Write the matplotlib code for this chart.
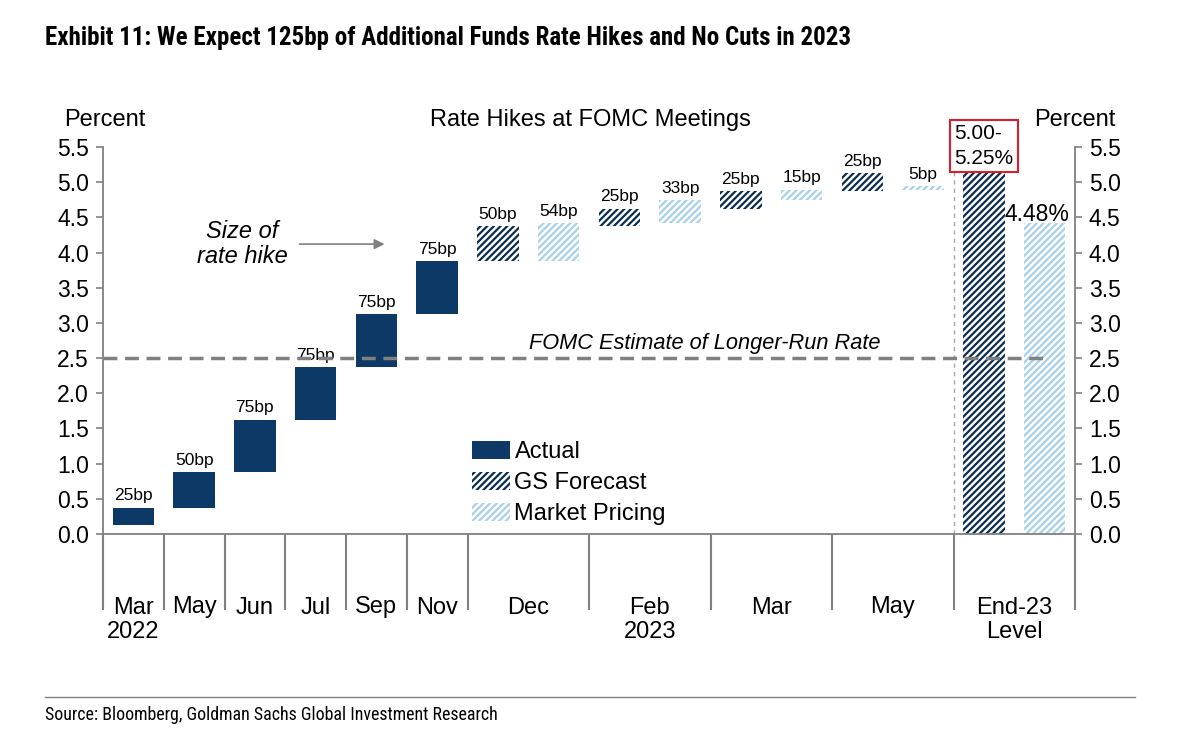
import matplotlib
matplotlib.use('Agg')
import matplotlib.pyplot as plt
from matplotlib import font_manager as fm
from matplotlib.patches import Patch
from matplotlib.lines import Line2D
import numpy as np

plt.rcParams['font.family'] = ['Liberation Sans', 'DejaVu Sans']
plt.rcParams['hatch.linewidth'] = 1.6

# ---------------- data ----------------
actual_months = ['Mar\n2022', 'May', 'Jun', 'Jul', 'Sep', 'Nov']
actual_hikes_bp = [25, 50, 75, 75, 75, 75]
actual_start = 0.125          # mid of target range before first hike

meeting_months = ['Dec', 'Feb\n2023', 'Mar', 'May']
gs_hikes_bp = [50, 25, 25, 25]
market_hikes_bp = [54, 33, 15, 5]

end_label = 'End-23\nLevel'
gs_end_level = 5.125
market_end_level = 4.42
gs_end_text = '5.00-\n5.25%'
market_end_text = '4.48%'

longer_run_rate = 2.5
yticks = [0.0, 0.5, 1.0, 1.5, 2.0, 2.5, 3.0, 3.5, 4.0, 4.5, 5.0, 5.5]

# ---------------- styles ----------------
NAVY = '#0c3966'
DARK = '#0a2d52'
LIGHT = '#a9d0ea'
GREY = '#808080'
HATCH = '/////'
FS = 17


def pick_narrow():
    for name in ['Roboto Condensed', 'Liberation Sans Narrow', 'Open Sans Condensed',
                 'Arial Narrow', 'DejaVu Sans Condensed']:
        try:
            fm.findfont(fm.FontProperties(family=name), fallback_to_default=False)
            return name
        except Exception:
            pass
    return 'Liberation Sans'


NARROW = pick_narrow()

fig = plt.figure(figsize=(12, 7.47), dpi=100)
fig.patch.set_facecolor('white')
ax = fig.add_axes([103/1200, 1-534/747, 972/1200, 387/747])

# slot geometry: narrow slots (width 1) for actual meetings, wide (2) for others
slot_w = [1]*len(actual_months) + [2]*(len(meeting_months)+1)
edges = np.concatenate([[0], np.cumsum(slot_w)])
centers = (edges[:-1] + edges[1:]) / 2
bw = 0.68


def label(x, y, txt):
    ax.annotate(txt, (x, y), xytext=(0, 3), textcoords='offset points',
                ha='center', va='bottom', fontsize=12.5, zorder=3)


# actual bars
a_h = np.array(actual_hikes_bp) / 100
a_bottom = actual_start + np.concatenate([[0], np.cumsum(a_h)[:-1]])
a_x = centers[:len(actual_months)]
ax.bar(a_x, a_h, bw, bottom=a_bottom, color=NAVY, zorder=2)
for x, b, h, bp in zip(a_x, a_bottom, a_h, actual_hikes_bp):
    label(x, b+h, f'{bp}bp')

start = a_bottom[-1] + a_h[-1]
m_x = centers[len(actual_months):len(actual_months)+len(meeting_months)]

g_h = np.array(gs_hikes_bp) / 100
g_bottom = start + np.concatenate([[0], np.cumsum(g_h)[:-1]])
ax.bar(m_x - 0.5, g_h, bw, bottom=g_bottom, color='white', edgecolor=DARK,
       hatch=HATCH, linewidth=0, zorder=2)
for x, b, h, bp in zip(m_x - 0.5, g_bottom, g_h, gs_hikes_bp):
    label(x, b+h, f'{bp}bp')

k_h = np.array(market_hikes_bp) / 100
k_bottom = start + np.concatenate([[0], np.cumsum(k_h)[:-1]])
ax.bar(m_x + 0.5, k_h, bw, bottom=k_bottom, color='white', edgecolor=LIGHT,
       hatch=HATCH, linewidth=0, zorder=2)
for x, b, h, bp in zip(m_x + 0.5, k_bottom, k_h, market_hikes_bp):
    label(x, b+h, f'{bp}bp')

# end-23 level bars
e_x = centers[-1]
ax.bar(e_x - 0.5, gs_end_level, bw, color='white', edgecolor=DARK,
       hatch=HATCH, linewidth=0, zorder=2)
ax.bar(e_x + 0.5, market_end_level, bw, color='white', edgecolor=LIGHT,
       hatch=HATCH, linewidth=0, zorder=2)
ax.text(e_x - 0.5, gs_end_level + 0.08, gs_end_text, ha='center', va='bottom',
        multialignment='left', fontsize=15, linespacing=1.4, zorder=5,
        bbox=dict(boxstyle='square,pad=0.2', fc='white', ec='#d9202a', lw=1.5),
        clip_on=False)
ax.annotate(market_end_text, (e_x + 0.37, market_end_level), xytext=(0, -2),
            textcoords='offset points', ha='center', va='bottom', fontsize=16.5,
            zorder=3)

# longer-run dashed line
ax.plot([0, 15.56], [longer_run_rate]*2, color=GREY, lw=2.5,
        ls=(0, (4, 2.2)), zorder=4, clip_on=False)
ax.text(9.91, 2.71, 'FOMC Estimate of Longer-Run Rate', ha='center', va='center',
        style='italic', fontsize=15.7, zorder=3)

# vertical dashed separator
ax.plot([edges[-2]]*2, [0, 5.55], color='#a6a6a6', lw=1.0, ls=(0, (3, 3)),
        zorder=1, clip_on=False)

# size of rate hike annotation
ax.text(2.29, 4.12, 'Size of\nrate hike', ha='center', va='center', style='italic',
        fontsize=FS, linespacing=1.15)
ax.annotate('', xy=(4.68, 4.12), xytext=(3.19, 4.12),
            arrowprops=dict(arrowstyle='-|>', color=GREY, lw=1.2, mutation_scale=15))

# axes formatting
ax.set_xlim(edges[0], edges[-1])
ax.set_ylim(0, 5.5)
ax.set_yticks(yticks)
ax.set_yticklabels([f'{v:.1f}' for v in yticks])
ax.tick_params(axis='y', which='both', direction='out', length=5, width=1.2,
               color=GREY, labelsize=16.5, left=True, right=True,
               labelleft=True, labelright=True, pad=5)
ax.set_xticks(centers)
ax.set_xticklabels(actual_months + meeting_months + [end_label], linespacing=1.15)
ax.set_xticks(edges, minor=True)
ax.tick_params(axis='x', which='major', length=0, labelsize=FS, pad=45)
ax.tick_params(axis='x', which='minor', length=55, width=1.5, color=GREY,
               direction='out')
for s in ['left', 'right', 'bottom']:
    ax.spines[s].set_color(GREY)
    ax.spines[s].set_linewidth(1.3)
ax.spines['top'].set_visible(False)

# legend
handles = [Patch(facecolor=NAVY, edgecolor=NAVY, linewidth=0),
           Patch(facecolor='white', edgecolor=DARK, hatch=HATCH, linewidth=0),
           Patch(facecolor='white', edgecolor=LIGHT, hatch=HATCH, linewidth=0)]
ax.legend(handles, ['Actual', 'GS Forecast', 'Market Pricing'], loc='upper left',
          bbox_to_anchor=(0.3796, 0.240), frameon=False, fontsize=FS,
          handlelength=1.6, handleheight=0.8, handletextpad=0.2,
          labelspacing=0.36, borderpad=0, borderaxespad=0)

# figure texts
fig.text(105/1200, 1-120/747, 'Percent', ha='center', va='center', fontsize=FS)
fig.text(1075/1200, 1-120/747, 'Percent', ha='center', va='center', fontsize=FS)
fig.text(590/1200, 1-120/747, 'Rate Hikes at FOMC Meetings', ha='center',
         va='center', fontsize=FS)

renderer = fig.canvas.get_renderer()


def fit_text(x, y, s, target_px, size, **kw):
    t = fig.text(x, y, s, fontsize=size, family=[NARROW, 'Liberation Sans'], **kw)
    w = t.get_window_extent(renderer=renderer).width
    if w > 0:
        t.set_fontsize(size * target_px / w)
    return t


fit_text(45/1200, 1-38/747,
         'Exhibit 11: We Expect 125bp of Additional Funds Rate Hikes and No Cuts in 2023',
         805, 18, ha='left', va='center', fontweight='bold')
fig.add_artist(Line2D([45/1200, 1135/1200], [1-697/747]*2, color=GREY, lw=1.0))
fit_text(45/1200, 1-715/747,
         'Source: Bloomberg, Goldman Sachs Global Investment Research',
         452, 13, ha='left', va='center')

fig.savefig('out.png', dpi=100, facecolor='white')
